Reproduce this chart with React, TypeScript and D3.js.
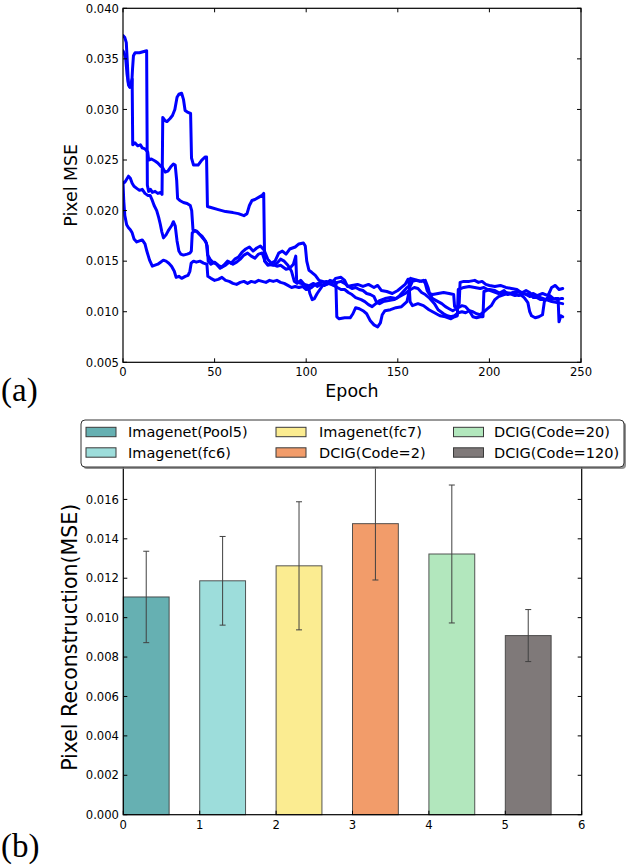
import React from "react";
import * as d3 from "d3";

// ---------- Panel (a): training curves (epoch, pixel MSE) ----------
const runA: [number, number][] = [[0,0.0373],[1,0.0371],[1.8,0.0366],[2.4,0.0345],[2.9,0.0327],[3.8,0.0322],[4.7,0.0323],[5.2,0.034],[5.7,0.0353],[6.6,0.0356],[9,0.0356],[12.9,0.0358],[13.3,0.0225],[14,0.0219],[15,0.0221],[16,0.0218],[17.5,0.0219],[19,0.0217],[20.5,0.0218],[21.3,0.0216],[21.7,0.0292],[23,0.0289],[24,0.0288],[25.7,0.0291],[27,0.0294],[28.3,0.03],[29.5,0.0312],[30.5,0.0315],[32,0.0316],[33,0.031],[33.9,0.0299],[35.5,0.0297],[36.9,0.0296],[37.4,0.0252],[38.5,0.0245],[41,0.0245],[43,0.025],[44.9,0.0253],[45.6,0.0253],[46.1,0.0204],[48,0.0203],[52,0.0201],[56,0.0199],[60,0.0198],[63,0.0197],[66,0.0195],[67.7,0.0197],[69,0.0205],[70.4,0.021],[72,0.0211],[74,0.0213],[75.9,0.0215],[76.8,0.0217],[77.3,0.015],[79,0.0146],[81,0.0147],[84,0.0145],[86,0.0146],[89,0.0142],[91,0.0143],[93,0.0147],[94.3,0.0155],[94.8,0.013],[97,0.0128],[99,0.0127],[101,0.0122],[103,0.0124],[105,0.0127],[108,0.0129],[111,0.013],[114,0.0128],[116,0.0133],[119,0.0134],[121,0.0131],[122.5,0.0125],[125,0.0126],[128,0.0127],[131,0.0125],[134,0.0127],[137,0.0124],[139,0.0126],[141,0.0121],[144,0.012],[147,0.0118],[150,0.0121],[152,0.0124],[154,0.0127],[155.5,0.0132],[156,0.0132],[156.7,0.011],[158,0.0106],[161,0.0108],[164,0.0106],[167,0.0102],[170,0.0099],[173,0.0096],[176,0.0095],[179,0.0093],[181,0.0095],[182.5,0.0096],[183,0.0122],[186,0.0124],[189,0.0125],[192,0.0124],[195,0.0123],[197,0.0124],[199,0.0122],[202,0.012],[205,0.0118],[208,0.0121],[210,0.0117],[213,0.0119],[216,0.0116],[219,0.0118],[222,0.0115],[225,0.0116],[228,0.0114],[231,0.0112],[233,0.0116],[235,0.0113],[237,0.0112],[239,0.0113],[240,0.0113]];
const runB: [number, number][] = [[0,0.0358],[0.8,0.0355],[1.5,0.035],[2.2,0.0335],[3,0.0324],[3.7,0.0322],[4.3,0.0326],[5,0.033],[5.3,0.0265],[6.5,0.0267],[8,0.0264],[9.5,0.0265],[10.5,0.0262],[12,0.0261],[13.5,0.0258],[14,0.025],[15.5,0.0251],[17.5,0.0249],[19,0.0247],[20.5,0.0244],[21.5,0.0243],[23,0.0238],[24.5,0.0239],[26,0.0243],[27.5,0.0246],[28.5,0.0245],[29.3,0.023],[29.8,0.0212],[31,0.021],[33,0.0208],[35,0.0207],[36.7,0.0205],[37.5,0.02],[38.2,0.0181],[40,0.018],[41.5,0.0177],[43,0.0175],[44.5,0.0171],[45.5,0.0168],[46.2,0.0156],[47.5,0.0152],[49,0.0149],[51,0.0147],[53,0.0143],[55,0.0146],[57,0.015],[59,0.0148],[61,0.0152],[63,0.0154],[65,0.0159],[67,0.0162],[69,0.0164],[71,0.016],[73,0.0163],[75,0.0165],[77,0.0161],[79,0.0152],[81,0.0148],[83,0.015],[85,0.0158],[87,0.016],[89,0.0157],[91,0.0162],[94,0.0164],[96,0.0167],[98.5,0.0168],[99.5,0.0165],[100.3,0.015],[101.5,0.0141],[103,0.0139],[105,0.0136],[107,0.0131],[109,0.013],[111,0.0127],[113,0.0129],[115,0.0126],[117,0.0124],[119,0.0122],[121,0.0122],[123,0.0119],[125,0.0117],[127,0.0114],[130,0.0112],[132,0.011],[134,0.0107],[136,0.0105],[138,0.0108],[140,0.0111],[143,0.0113],[146,0.0114],[149,0.0113],[151,0.0116],[153,0.012],[155,0.0124],[157,0.0126],[158,0.013],[160,0.0131],[162,0.013],[164,0.0131],[165,0.0128],[166,0.0121],[167,0.0118],[169,0.0117],[172,0.0118],[175,0.0119],[178,0.0118],[180.5,0.0117],[181,0.0105],[183,0.0104],[185,0.0106],[187,0.0105],[189,0.0101],[191,0.0095],[193,0.0094],[195,0.0095],[196.5,0.0095],[197,0.012],[200,0.0122],[203,0.0121],[206,0.0118],[209,0.0119],[212,0.0118],[215,0.012],[218,0.0119],[220,0.0121],[222,0.0119],[224,0.0114],[226,0.0114],[228,0.0112],[231,0.0112],[234,0.011],[237,0.0109],[240,0.0108]];
const runC: [number, number][] = [[0,0.0227],[1,0.0228],[2,0.0231],[3,0.0234],[4,0.0232],[5,0.0227],[6,0.0224],[7.5,0.0222],[9,0.022],[10.5,0.0221],[12,0.0217],[13.5,0.0215],[14.8,0.0215],[16,0.021],[17,0.0205],[18.4,0.02],[19.5,0.0193],[20.3,0.0187],[21.2,0.0179],[22.1,0.0173],[23.5,0.0176],[25,0.0181],[26.5,0.0185],[27.5,0.0189],[28.5,0.0185],[29.5,0.017],[30.5,0.016],[31.5,0.0157],[33,0.0156],[35,0.0157],[36.5,0.0158],[37.3,0.016],[37.8,0.0178],[39,0.018],[40.5,0.0179],[42,0.0176],[43.5,0.0173],[45,0.017],[46,0.0165],[46.5,0.015],[48,0.0147],[50,0.0149],[52,0.0146],[54,0.0144],[56,0.0146],[58,0.0149],[60,0.0147],[62,0.0149],[64,0.0152],[66,0.0156],[68,0.0158],[70,0.0155],[72,0.0153],[74,0.0157],[76,0.0158],[77.5,0.015],[79,0.0147],[82,0.0146],[84,0.0148],[86,0.0152],[88,0.015],[90,0.0146],[92,0.014],[93.5,0.013],[95,0.0128],[97,0.0131],[99,0.0127],[101,0.0126],[102,0.0118],[103.3,0.0112],[104.5,0.0113],[106,0.0118],[107.5,0.0122],[109,0.0126],[111,0.0128],[113,0.0131],[115,0.013],[116.2,0.0129],[116.7,0.0095],[118,0.0093],[121,0.0094],[124,0.0094],[125.5,0.0098],[127,0.0104],[129,0.0103],[131,0.0101],[133,0.0098],[135,0.0091],[137,0.0087],[139,0.0085],[140.5,0.0089],[141.5,0.0097],[143,0.0101],[146,0.0102],[149,0.0104],[152,0.0105],[155,0.011],[156.3,0.0121],[157,0.0133],[159,0.0132],[161,0.0131],[163,0.013],[165,0.0131],[166.5,0.0124],[167.5,0.0117],[169,0.0113],[171,0.0111],[174,0.0108],[176,0.0105],[178,0.0103],[180,0.0101],[182,0.0103],[183.5,0.0108],[184,0.0129],[186,0.013],[189,0.013],[192,0.0131],[194,0.0129],[196,0.013],[198,0.0127],[200,0.0126],[203,0.0125],[206,0.0126],[209,0.0124],[212,0.0123],[215,0.0122],[218,0.0118],[221,0.0117],[224,0.0118],[226,0.0116],[229,0.0118],[232,0.0116],[234,0.0124],[236,0.0126],[238,0.0122],[240,0.0123]];
const runD: [number, number][] = [[0,0.0228],[0.4,0.021],[1,0.0195],[2,0.0186],[3,0.0183],[4,0.0181],[5,0.0178],[6,0.0172],[7.5,0.0169],[9,0.017],[10.5,0.0171],[12,0.0167],[13,0.016],[14.5,0.0151],[16,0.0145],[17.5,0.0146],[19,0.0147],[20.5,0.0149],[22,0.0151],[23.5,0.015],[25,0.0148],[26.5,0.0145],[28,0.014],[29,0.0134],[30.5,0.0135],[32,0.0133],[34,0.0135],[35.5,0.0136],[36.5,0.014],[37.2,0.0148],[38.5,0.015],[40,0.0149],[42,0.015],[44,0.0148],[45.8,0.0147],[46.3,0.0135],[48,0.0133],[50,0.0131],[52,0.0132],[54,0.0134],[56,0.0131],[58,0.013],[60,0.0128],[62,0.0127],[64,0.0129],[66,0.013],[68,0.0128],[70,0.013],[72,0.0129],[74,0.0131],[76,0.013],[78,0.0129],[80,0.0131],[82,0.013],[84,0.0131],[86,0.0129],[88,0.0128],[90,0.0126],[92,0.0124],[94,0.0125],[96,0.0124],[98,0.0125],[100,0.0122],[102,0.0126],[104,0.0128],[106,0.0125],[108,0.0127],[110,0.0126],[112,0.0128],[115,0.0126],[117,0.0129],[119,0.013],[121,0.0128],[123,0.0125],[125,0.0123],[127,0.0124],[129,0.0122],[131,0.0121],[133,0.0118],[135,0.0117],[137,0.0115],[138.5,0.0109],[140,0.0108],[142,0.011],[145,0.0111],[148,0.0112],[151,0.0115],[154,0.0118],[157,0.0122],[159,0.0124],[161,0.0123],[163,0.0119],[165,0.0117],[167,0.0114],[170,0.0108],[172,0.0102],[175,0.0098],[177,0.0096],[179,0.0095],[181,0.0096],[183,0.0099],[185,0.01],[187,0.0099],[189,0.0101],[191,0.01],[193,0.0098],[195,0.0097],[197,0.01],[199,0.0103],[201,0.0106],[203,0.0112],[205,0.0115],[208,0.0117],[211,0.0118],[214,0.0116],[217,0.0117],[219,0.0114],[221,0.0109],[222,0.01],[223,0.0096],[225,0.0094],[227,0.0095],[229,0.0097],[230,0.011],[232,0.0114],[234,0.0112],[236,0.0113],[237.5,0.0113],[238,0.009],[239,0.0096],[240,0.0095]];
const runs = [runA, runB, runC, runD];
const epochTicks = [0, 50, 100, 150, 200, 250];
const mseTicks = [0.005, 0.01, 0.015, 0.02, 0.025, 0.03, 0.035, 0.04];

// ---------- Panel (b): reconstruction error bars ----------
const barLabels = ["Imagenet(Pool5)", "Imagenet(fc6)", "Imagenet(fc7)", "DCIG(Code=2)", "DCIG(Code=20)", "DCIG(Code=120)"];
const barMeans = [0.01105, 0.01187, 0.01263, 0.01477, 0.01323, 0.00909];
const barErrs = [0.00232, 0.00225, 0.00325, 0.00286, 0.00350, 0.00132];
const barColors = ["#66b0b2", "#9ddddb", "#fbec91", "#f29c6a", "#b2e7bd", "#7f7979"];
const barXTicks = [0, 1, 2, 3, 4, 5, 6];
const barYTicks = [0, 0.002, 0.004, 0.006, 0.008, 0.01, 0.012, 0.014, 0.016];

const FONT = "DejaVu Sans, sans-serif";

export default function App() {
  // panel (a) geometry
  const ax = { l: 123, r: 581, t: 8.3, b: 362.3 };
  const xA = d3.scaleLinear().domain([0, 250]).range([ax.l, ax.r]);
  const yA = d3.scaleLinear().domain([0.005, 0.04]).range([ax.b, ax.t]);
  const line = d3.line<[number, number]>().x(d => xA(d[0])).y(d => yA(d[1]));

  // panel (b) geometry
  const bx = { l: 123.3, r: 581.7, t: 460, b: 814.7 };
  const xB = d3.scaleLinear().domain([0, 6]).range([bx.l, bx.r]);
  const yB = d3.scaleLinear().domain([0, 0.018]).range([bx.b, bx.t]);
  const barW = 0.6;
  const tk = 4;

  const legendCols = [
    { patchX: 86, textX: 128 },
    { patchX: 276, textX: 319 },
    { patchX: 453.5, textX: 494 },
  ];
  const legendRows = [432, 452.5];

  return (
    <svg width={629} height={865} style={{ position: "absolute", left: 0, top: 0, background: "#fff" }} fontFamily={FONT}>
      <rect x={0} y={0} width={629} height={865} fill="#fff" />
      {/* ===== Panel (a) ===== */}
      <defs>
        <clipPath id="clipA">
          <rect x={ax.l} y={ax.t} width={ax.r - ax.l} height={ax.b - ax.t} />
        </clipPath>
      </defs>
      <g clipPath="url(#clipA)">
        {runs.map((r, i) => (
          <path key={i} d={line(r) || ""} fill="none" stroke="#0000ff" strokeWidth={3} strokeLinejoin="round" strokeLinecap="round" />
        ))}
      </g>
      <rect x={ax.l} y={ax.t} width={ax.r - ax.l} height={ax.b - ax.t} fill="none" stroke="#000" strokeWidth={1.2} />
      {epochTicks.map(t => (
        <g key={"ex" + t}>
          <line x1={xA(t)} x2={xA(t)} y1={ax.b} y2={ax.b - tk} stroke="#000" />
          <line x1={xA(t)} x2={xA(t)} y1={ax.t} y2={ax.t + tk} stroke="#000" />
          <text x={xA(t)} y={376} fontSize={11.6} textAnchor="middle">{t}</text>
        </g>
      ))}
      {mseTicks.map(t => (
        <g key={"ey" + t}>
          <line x1={ax.l} x2={ax.l + tk} y1={yA(t)} y2={yA(t)} stroke="#000" />
          <line x1={ax.r} x2={ax.r - tk} y1={yA(t)} y2={yA(t)} stroke="#000" />
          <text x={119} y={yA(t) + 4.2} fontSize={11.6} textAnchor="end">{t.toFixed(3)}</text>
        </g>
      ))}
      <text x={(ax.l + ax.r) / 2} y={397} fontSize={17.4} textAnchor="middle">Epoch</text>
      <text transform={`translate(77,${(ax.t + ax.b) / 2}) rotate(-90)`} fontSize={17.4} textAnchor="middle">Pixel MSE</text>
      <text x={1} y={401} fontSize={33} fontFamily="Liberation Serif, Times New Roman, serif">(a)</text>

      {/* ===== Panel (b) ===== */}
      {barMeans.map((m, i) => (
        <rect key={"bar" + i} x={xB(i)} y={yB(m)} width={xB(i + barW) - xB(i)} height={yB(0) - yB(m)}
          fill={barColors[i]} stroke="#3a3a3a" strokeOpacity={0.85} strokeWidth={1} />
      ))}
      {barMeans.map((m, i) => {
        const cx = xB(i + barW / 2);
        const top = Math.min(m + barErrs[i], 0.018);
        return (
          <g key={"err" + i} stroke="#404040" strokeWidth={1}>
            <line x1={cx} x2={cx} y1={yB(m - barErrs[i])} y2={yB(top)} />
            <line x1={cx - 3} x2={cx + 3} y1={yB(m - barErrs[i])} y2={yB(m - barErrs[i])} />
            <line x1={cx - 3} x2={cx + 3} y1={yB(m + barErrs[i])} y2={yB(m + barErrs[i])} />
          </g>
        );
      })}
      <rect x={bx.l} y={bx.t} width={bx.r - bx.l} height={bx.b - bx.t} fill="none" stroke="#000" strokeWidth={1.2} />
      {barXTicks.map(t => (
        <g key={"bx" + t}>
          <line x1={xB(t)} x2={xB(t)} y1={bx.b} y2={bx.b - tk} stroke="#000" />
          <text x={xB(t)} y={829} fontSize={11.6} textAnchor="middle">{t}</text>
        </g>
      ))}
      {barYTicks.map(t => (
        <g key={"by" + t}>
          <line x1={bx.l} x2={bx.l + tk} y1={yB(t)} y2={yB(t)} stroke="#000" />
          <line x1={bx.r} x2={bx.r - tk} y1={yB(t)} y2={yB(t)} stroke="#000" />
          <text x={119} y={yB(t) + 4.2} fontSize={11.6} textAnchor="end">{t.toFixed(3)}</text>
        </g>
      ))}
      <text transform={`translate(77,${(bx.t + bx.b) / 2}) rotate(-90)`} fontSize={20.5} textAnchor="middle">Pixel Reconstruction(MSE)</text>

      {/* legend */}
      <rect x={83} y={422} width={543} height={47} rx={4} fill="#777" opacity={0.8} />
      <rect x={81} y={420} width={543} height={47} rx={4} fill="#fff" stroke="#333" strokeWidth={1} />
      {barLabels.map((lab, i) => {
        const col = legendCols[Math.floor(i / 2)];
        const cy = legendRows[i % 2];
        return (
          <g key={"lg" + i}>
            <rect x={col.patchX} y={cy - 4.7} width={30} height={9.4} fill={barColors[i]} stroke="#3a3a3a" strokeWidth={1} />
            <text x={col.textX} y={cy + 5} fontSize={14.5}>{lab}</text>
          </g>
        );
      })}
      <text x={1} y={857} fontSize={33} fontFamily="Liberation Serif, Times New Roman, serif">(b)</text>
    </svg>
  );
}
